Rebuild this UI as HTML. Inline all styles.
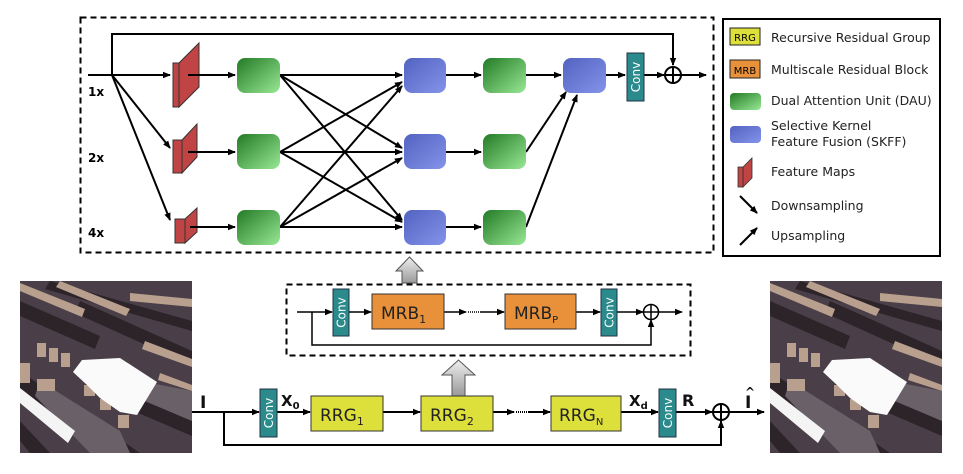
<!DOCTYPE html>
<html><head><meta charset="utf-8"><style>
html,body{margin:0;padding:0;background:#fff;}
svg{display:block;}
text{font-family:"DejaVu Sans","Liberation Sans",sans-serif;}
</style></head><body>
<svg width="963" height="474" viewBox="0 0 963 474" xmlns="http://www.w3.org/2000/svg">
<defs>
<marker id="ah" markerWidth="8" markerHeight="8" refX="7" refY="4" orient="auto" markerUnits="userSpaceOnUse"><path d="M0,0.8 L8,4 L0,7.2 Z" fill="#000"/></marker>
<linearGradient id="gg" x1="0" y1="0" x2="1" y2="1"><stop offset="0" stop-color="#237a25"/><stop offset="1" stop-color="#98e894"/></linearGradient>
<linearGradient id="bg" x1="0" y1="0" x2="1" y2="1"><stop offset="0" stop-color="#5262c0"/><stop offset="1" stop-color="#8494ea"/></linearGradient>
<linearGradient id="ga" x1="0" y1="0" x2="0" y2="1"><stop offset="0" stop-color="#eee"/><stop offset="1" stop-color="#999"/></linearGradient>
<g id="img">
<rect x="0" y="0" width="172" height="172" fill="#4a3f48"/>
<g fill="#2c2429">
<polygon points="0,20 80,55 75,68 0,35"/>
<polygon points="60,20 172,70 172,85 55,32"/>
<polygon points="0,90 120,172 90,172 0,108"/>
<polygon points="100,110 172,140 172,155 95,122"/>
<polygon points="30,0 172,40 172,50 25,8"/>
<polygon points="0,140 30,172 10,172 0,160"/>
</g>
<g fill="#6a6068">
<polygon points="20,100 100,150 110,172 70,172 15,115"/>
<polygon points="120,100 172,110 172,140 125,120"/>
</g>
<g fill="#b9a08e">
<polygon points="0,2 65,28 62,36 0,10"/>
<polygon points="40,0 110,28 106,35 36,6"/>
<polygon points="110,12 172,18 172,26 110,20"/>
<polygon points="125,60 172,78 172,86 122,68"/>
<polygon points="140,92 172,104 172,110 138,99"/>
<rect x="17" y="62" width="9" height="14"/><rect x="29" y="67" width="9" height="14"/><rect x="41" y="72" width="9" height="14"/>
<rect x="0" y="82" width="10" height="20"/>
<rect x="17" y="98" width="18" height="12"/>
<rect x="64" y="104" width="11" height="11"/><rect x="80" y="118" width="11" height="11"/><rect x="98" y="134" width="11" height="13"/>
</g>
<polygon points="53,91 62,79 100,77 137,101 117,134 100,131 80,117 67,104" fill="#fafafa"/>
<polygon points="0,107 0,122 48,162 55,150" fill="#f4f4f4"/>
</g>
</defs>

<use href="#img" x="20" y="281"/>
<use href="#img" x="770" y="281"/>

<rect x="80.5" y="17.5" width="633" height="235" fill="none" stroke="#000" stroke-width="2" stroke-dasharray="6,4"/>

<g stroke="#000" stroke-width="2" fill="none">
<polyline points="112,75 112,34 673,34 673,65" marker-end="url(#ah)"/>
<line x1="88" y1="75" x2="170" y2="75" marker-end="url(#ah)"/>
<line x1="112" y1="75" x2="170" y2="148" marker-end="url(#ah)"/>
<line x1="112" y1="75" x2="170" y2="220" marker-end="url(#ah)"/>
<line x1="280" y1="75" x2="402" y2="75" marker-end="url(#ah)"/>
<line x1="280" y1="75" x2="402" y2="148" marker-end="url(#ah)"/>
<line x1="280" y1="75" x2="402" y2="220" marker-end="url(#ah)"/>
<line x1="280" y1="152" x2="402" y2="82" marker-end="url(#ah)"/>
<line x1="280" y1="152" x2="402" y2="152" marker-end="url(#ah)"/>
<line x1="280" y1="152" x2="402" y2="222" marker-end="url(#ah)"/>
<line x1="280" y1="227" x2="402" y2="86" marker-end="url(#ah)"/>
<line x1="280" y1="227" x2="402" y2="158" marker-end="url(#ah)"/>
<line x1="280" y1="227" x2="402" y2="227" marker-end="url(#ah)"/>
<line x1="446" y1="75" x2="481" y2="75" marker-end="url(#ah)"/>
<line x1="446" y1="152" x2="481" y2="152" marker-end="url(#ah)"/>
<line x1="446" y1="227" x2="481" y2="227" marker-end="url(#ah)"/>
<line x1="526" y1="75" x2="561" y2="75" marker-end="url(#ah)"/>
<line x1="526" y1="152" x2="566" y2="92" marker-end="url(#ah)"/>
<line x1="526" y1="227" x2="577" y2="95" marker-end="url(#ah)"/>
<line x1="606" y1="75" x2="625" y2="75" marker-end="url(#ah)"/>
<line x1="644" y1="75" x2="664" y2="75" marker-end="url(#ah)"/>
<line x1="681" y1="75" x2="706" y2="75" marker-end="url(#ah)"/>
</g>

<g fill="#c04444" stroke="#333" stroke-width="1">
<polygon points="179,63 199,43 199,87 179,107"/><rect x="173" y="63" width="6" height="44"/>
<polygon points="182,140 197,124 197,157 182,173"/><rect x="173" y="140" width="9" height="33"/>
<polygon points="185,219 197,208 197,232 185,243"/><rect x="175" y="219" width="10" height="24"/>
</g>
<g stroke="#000" stroke-width="2">
<line x1="188" y1="75" x2="235" y2="75" marker-end="url(#ah)"/>
<line x1="188" y1="152" x2="235" y2="152" marker-end="url(#ah)"/>
<line x1="190" y1="227" x2="235" y2="227" marker-end="url(#ah)"/>
</g>

<rect x="237" y="58" width="43" height="35" rx="8" fill="url(#gg)"/>
<rect x="237" y="134" width="43" height="35" rx="8" fill="url(#gg)"/>
<rect x="237" y="210" width="43" height="35" rx="8" fill="url(#gg)"/>
<rect x="404" y="58" width="42" height="35" rx="8" fill="url(#bg)"/>
<rect x="404" y="134" width="42" height="35" rx="8" fill="url(#bg)"/>
<rect x="404" y="210" width="42" height="35" rx="8" fill="url(#bg)"/>
<rect x="483" y="58" width="43" height="35" rx="8" fill="url(#gg)"/>
<rect x="483" y="134" width="43" height="35" rx="8" fill="url(#gg)"/>
<rect x="483" y="210" width="43" height="35" rx="8" fill="url(#gg)"/>
<rect x="563" y="58" width="43" height="35" rx="8" fill="url(#bg)"/>
<rect x="627" y="53" width="17" height="48" fill="#2a8a8c" stroke="#234" stroke-width="1"/>
<text transform="translate(640,77) rotate(-90)" text-anchor="middle" font-size="12" fill="#fff">Conv</text>
<circle cx="673" cy="75" r="8" fill="#fff" stroke="#000" stroke-width="2"/>
<path d="M665,75 H681 M673,67 V83" stroke="#000" stroke-width="2"/>

<text x="88" y="96" font-size="12" font-weight="bold">1x</text>
<text x="88" y="162" font-size="12" font-weight="bold">2x</text>
<text x="88" y="237" font-size="12" font-weight="bold">4x</text>

<rect x="723" y="19" width="217" height="237" fill="none" stroke="#000" stroke-width="2"/>
<rect x="730" y="28" width="30" height="17" fill="#dde03a" stroke="#222"/>
<text x="745" y="41" font-size="10" text-anchor="middle">RRG</text>
<text x="771" y="42" font-size="12.5" fill="#222">Recursive Residual Group</text>
<rect x="730" y="60" width="30" height="18" fill="#e8913a" stroke="#222"/>
<text x="745" y="74" font-size="10" text-anchor="middle">MRB</text>
<text x="771" y="74" font-size="12.5" fill="#222">Multiscale Residual Block</text>
<rect x="730" y="93" width="31" height="17" rx="4" fill="url(#gg)"/>
<text x="771" y="105" font-size="12.5" fill="#222">Dual Attention Unit (DAU)</text>
<rect x="730" y="126" width="31" height="17" rx="4" fill="url(#bg)"/>
<text x="771" y="130" font-size="12.5" fill="#222">Selective Kernel</text>
<text x="771" y="146" font-size="12.5" fill="#222">Feature Fusion (SKFF)</text>
<polygon points="743,167 752,158 752,178 743,187" fill="#c04444" stroke="#333" stroke-width="0.8"/>
<rect x="738" y="167" width="5" height="20" fill="#c04444" stroke="#333" stroke-width="0.8"/>
<text x="771" y="176" font-size="12.5" fill="#222">Feature Maps</text>
<line x1="740" y1="196" x2="757" y2="213" stroke="#000" stroke-width="2" marker-end="url(#ah)"/>
<text x="771" y="210" font-size="12.5" fill="#222">Downsampling</text>
<line x1="740" y1="245" x2="757" y2="228" stroke="#000" stroke-width="2" marker-end="url(#ah)"/>
<text x="771" y="240" font-size="12.5" fill="#222">Upsampling</text>

<polygon points="402,283 402,271 396,271 409.5,257 423,271 417,271 417,283" fill="url(#ga)" stroke="#555"/>
<polygon points="452,396 452,375 442,375 458.5,360 475,375 465,375 465,396" fill="url(#ga)" stroke="#555"/>

<rect x="286.5" y="284.5" width="404" height="71" fill="none" stroke="#000" stroke-width="2" stroke-dasharray="6,4"/>
<g stroke="#000" stroke-width="1.5" fill="none">
<line x1="297" y1="312" x2="332" y2="312" marker-end="url(#ah)"/>
<line x1="349" y1="312" x2="371" y2="312" marker-end="url(#ah)"/>
<line x1="444" y1="312" x2="466" y2="312" marker-end="url(#ah)"/>
<line x1="468" y1="312" x2="480" y2="312" stroke-dasharray="1,1"/>
<line x1="480" y1="312" x2="504" y2="312" marker-end="url(#ah)"/>
<line x1="576" y1="312" x2="600" y2="312" marker-end="url(#ah)"/>
<line x1="617" y1="312" x2="643" y2="312" marker-end="url(#ah)"/>
<line x1="658" y1="312" x2="682" y2="312" marker-end="url(#ah)"/>
<polyline points="312,312 312,345 651,345 651,320" marker-end="url(#ah)"/>
</g>
<rect x="333" y="289" width="16" height="47" fill="#2a8a8c" stroke="#234"/>
<text transform="translate(345.5,312.5) rotate(-90)" text-anchor="middle" font-size="12" fill="#fff">Conv</text>
<rect x="372" y="294" width="72" height="35" fill="#e8913a" stroke="#333"/>
<text x="381" y="319" font-size="17" fill="#222">MRB<tspan font-size="11" dy="4">1</tspan></text>
<rect x="505" y="294" width="71" height="35" fill="#e8913a" stroke="#333"/>
<text x="514" y="319" font-size="17" fill="#222">MRB<tspan font-size="10" dy="4">P</tspan></text>
<rect x="601" y="289" width="16" height="47" fill="#2a8a8c" stroke="#234"/>
<text transform="translate(613.5,312.5) rotate(-90)" text-anchor="middle" font-size="12" fill="#fff">Conv</text>
<circle cx="651" cy="312" r="7.5" fill="#fff" stroke="#000" stroke-width="1.5"/>
<path d="M643.5,312 H658.5 M651,304.5 V319.5" stroke="#000" stroke-width="1.5"/>

<g stroke="#000" stroke-width="2" fill="none">
<line x1="192" y1="412" x2="259" y2="412" marker-end="url(#ah)"/>
<line x1="277" y1="412" x2="310" y2="412" marker-end="url(#ah)"/>
<line x1="383" y1="412" x2="420" y2="412" marker-end="url(#ah)"/>
<line x1="493" y1="412" x2="514" y2="412" marker-end="url(#ah)"/>
<line x1="516" y1="412" x2="528" y2="412" stroke-dasharray="1,1"/>
<line x1="528" y1="412" x2="550" y2="412" marker-end="url(#ah)"/>
<line x1="621" y1="412" x2="658" y2="412" marker-end="url(#ah)"/>
<line x1="676" y1="412" x2="712" y2="412" marker-end="url(#ah)"/>
<line x1="729" y1="412" x2="764" y2="412" marker-end="url(#ah)"/>
<polyline points="224,412 224,445 721,445 721,421" marker-end="url(#ah)"/>
</g>
<rect x="260" y="389" width="17" height="48" fill="#2a8a8c" stroke="#234"/>
<text transform="translate(273,413) rotate(-90)" text-anchor="middle" font-size="12" fill="#fff">Conv</text>
<rect x="311" y="396" width="72" height="35" fill="#dde03a" stroke="#333"/>
<text x="320" y="421" font-size="17" fill="#222">RRG<tspan font-size="11" dy="4">1</tspan></text>
<rect x="421" y="396" width="72" height="35" fill="#dde03a" stroke="#333"/>
<text x="430" y="421" font-size="17" fill="#222">RRG<tspan font-size="11" dy="4">2</tspan></text>
<rect x="551" y="396" width="70" height="35" fill="#dde03a" stroke="#333"/>
<text x="559" y="421" font-size="17" fill="#222">RRG<tspan font-size="10" dy="4">N</tspan></text>
<rect x="659" y="389" width="17" height="48" fill="#2a8a8c" stroke="#234"/>
<text transform="translate(672,413) rotate(-90)" text-anchor="middle" font-size="12" fill="#fff">Conv</text>
<circle cx="721" cy="412" r="8" fill="#fff" stroke="#000" stroke-width="2"/>
<path d="M713,412 H729 M721,404 V420" stroke="#000" stroke-width="2"/>
<g font-weight="bold" fill="#111">
<text x="200" y="408" font-size="17" font-family="Liberation Serif,serif">I</text>
<text x="281" y="406" font-size="15" font-family="Liberation Serif,serif">X<tspan font-size="10" dy="3">0</tspan></text>
<text x="629" y="406" font-size="15" font-family="Liberation Serif,serif">X<tspan font-size="10" dy="3">d</tspan></text>
<text x="682" y="406" font-size="16" font-family="Liberation Serif,serif">R</text>
<text x="745" y="408" font-size="17" font-family="Liberation Serif,serif">I</text>
<text x="745" y="396" font-size="12" font-family="Liberation Serif,serif">^</text>
</g>
</svg>
</body></html>
